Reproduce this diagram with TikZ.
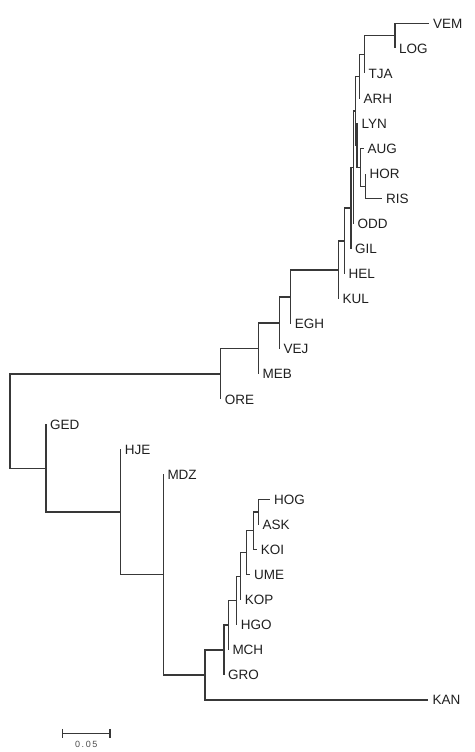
\documentclass[tikz,border=0pt]{standalone}
\usepackage{fontspec}
\setmainfont{Liberation Sans}
\begin{document}
\begin{tikzpicture}[x=1pt,y=-1pt,
  br/.style={draw=black!78, line width=1.3pt, line join=miter},
  lab/.style={anchor=west, xshift=4pt, inner sep=0pt, text height=9.7pt, text depth=0pt,
    font=\fontsize{13.5}{15}\selectfont, text=black!88},
  sclab/.style={inner sep=0pt, font=\fontsize{9}{10}\selectfont\addfontfeature{LetterSpace=18}, text=black!70}]
\useasboundingbox (0,0) rectangle (474,752);
% internal nodes
\coordinate (root) at (10,421);
\coordinate (nA) at (220.7,373.9);
\coordinate (nB) at (258.5,348.6);
\coordinate (nC) at (279.3,323.05);
\coordinate (nD) at (290.7,297.0);
\coordinate (nF) at (338.3,270.0);
\coordinate (nG) at (344.3,241.0);
\coordinate (nH) at (351.0,208.1);
\coordinate (nI) at (353.3,167.4);
\coordinate (nJ) at (355.3,111.0);
\coordinate (nL) at (359.3,76.56);
\coordinate (nE) at (364.3,54.63);
\coordinate (nK) at (395.0,35.85);
\coordinate (nO) at (357.0,145.45);
\coordinate (nN) at (360.7,167.4);
\coordinate (nM) at (365.5,186.2);
\coordinate (nP) at (46,468.15);
\coordinate (nQ) at (120.7,512.0);
\coordinate (nR) at (163.3,574.7);
\coordinate (nS) at (205.0,675.0);
\coordinate (nT) at (224.0,650.0);
\coordinate (nU) at (228.3,625.1);
\coordinate (nV) at (236.7,600.45);
\coordinate (nW) at (240.7,576.2);
\coordinate (nX) at (246.7,552.7);
\coordinate (nY) at (253.3,530.8);
\coordinate (nZ) at (258.3,511.95);
% leaves
\coordinate (VEM) at (429,23.3);
\coordinate (LOG) at (395,48.4);
\coordinate (TJA) at (364.3,73.4);
\coordinate (ARH) at (359.3,98.5);
\coordinate (LYN) at (357.5,123.5);
\coordinate (AUG) at (363.5,148.6);
\coordinate (HOR) at (365.5,173.7);
\coordinate (RIS) at (382,198.7);
\coordinate (ODD) at (353.3,223.8);
\coordinate (GIL) at (351,248.8);
\coordinate (HEL) at (344.3,273.9);
\coordinate (KUL) at (338.3,299.0);
\coordinate (EGH) at (290.7,324.0);
\coordinate (VEJ) at (279.3,349.1);
\coordinate (MEB) at (258.5,374.1);
\coordinate (ORE) at (220.7,399.2);
\coordinate (GED) at (46,424.3);
\coordinate (HJE) at (120.7,449.3);
\coordinate (MDZ) at (163.3,474.4);
\coordinate (HOG) at (270,499.4);
\coordinate (ASK) at (258.3,524.5);
\coordinate (KOI) at (256.7,549.6);
\coordinate (UME) at (250,574.6);
\coordinate (KOP) at (240.7,599.7);
\coordinate (HGO) at (236.7,624.7);
\coordinate (MCH) at (228.3,649.8);
\coordinate (GRO) at (224,674.9);
\coordinate (KAN) at (428.3,699.9);
% branches
\foreach \p/\c in {root/nA, root/nP,
  nA/nB, nA/ORE, nB/nC, nB/MEB, nC/nD, nC/VEJ, nD/nF, nD/EGH,
  nF/nG, nF/KUL, nG/nH, nG/HEL, nH/nI, nH/GIL, nI/nJ, nI/ODD,
  nJ/nL, nJ/nO, nL/nE, nL/ARH, nE/nK, nE/TJA, nK/VEM, nK/LOG,
  nO/LYN, nO/nN, nN/AUG, nN/nM, nM/HOR, nM/RIS,
  nP/GED, nP/nQ, nQ/HJE, nQ/nR, nR/MDZ, nR/nS, nS/nT, nS/KAN,
  nT/nU, nT/GRO, nU/nV, nU/MCH, nV/nW, nV/HGO, nW/nX, nW/KOP,
  nX/nY, nX/UME, nY/nZ, nY/KOI, nZ/HOG, nZ/ASK}
  \draw[br] (\p) |- (\c);
% labels
\foreach \l in {VEM,LOG,TJA,ARH,LYN,AUG,HOR,RIS,ODD,GIL,HEL,KUL,EGH,VEJ,MEB,ORE,
  GED,HJE,MDZ,HOG,ASK,KOI,UME,KOP,HGO,MCH,GRO,KAN}
  \node[lab] (t\l) at (\l) {\l};
% scale bar
\coordinate (sb1) at (62.7,733.3);
\coordinate (sb2) at (110,733.3);
\draw[br] (sb1) -- (sb2);
\draw[br] ([yshift=4.5pt]sb1) -- ([yshift=-4.5pt]sb1);
\draw[br] ([yshift=4.5pt]sb2) -- ([yshift=-4.5pt]sb2);
\node[sclab] (sbl) at (86.3,744.3) {0.05};
\end{tikzpicture}
\end{document}
